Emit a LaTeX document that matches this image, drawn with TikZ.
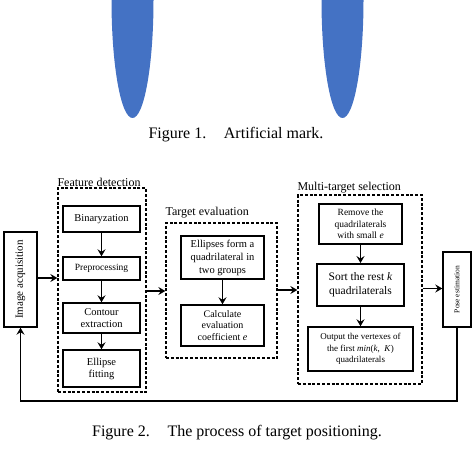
\documentclass[tikz,border=0pt]{standalone}
\usepackage{fontspec}
\setmainfont{Liberation Serif}
\usepackage{tikz}
\usetikzlibrary{arrows.meta}
\definecolor{markblue}{RGB}{68,114,196}

\begin{document}
\begin{tikzpicture}[x=1pt,y=-1pt,
		blk/.style={draw, line width=1.4pt, align=center, inner sep=1pt, font=\fontsize{10.5}{12}\selectfont},
		grp/.style={draw, line width=1.3pt, dash pattern=on 3pt off 1.8pt},
		lbl/.style={anchor=south west, inner sep=0pt, font=\fontsize{12}{14}\selectfont},
		arr/.style={line width=1.8pt, -{Stealth[length=7pt,width=8pt,inset=2.5pt]}},
		captext/.style={font=\fontsize{16}{18}\selectfont}]
	\useasboundingbox (0,0) rectangle (474,465);
	% Figure 1: the two marks
	\begin{scope}
		\clip (0,0) rectangle (474,465);
		\fill[markblue] (132.5,0) ellipse [x radius=21, y radius=118];
		\fill[markblue] (342.5,0) ellipse [x radius=21, y radius=118];
	\end{scope}
	\node[captext] (capone) at (236,135) {Figure 1.\hspace{1.1em}Artificial mark.};
	
	% Figure 2: groups
	\node[grp, minimum width=88, minimum height=204] (feat) at (102,290) {};
	\node[grp, minimum width=111, minimum height=135] (eval) at (221.5,290.5) {};
	\node[grp, minimum width=124, minimum height=189] (sel) at (360,289.5) {};
	\node[lbl, yshift=1] (featlbl) at (feat.north west) {Feature detection};
	\node[lbl, yshift=4] (evallbl) at (eval.north west) {Target evaluation};
	\node[lbl, yshift=1] (sellbl) at (sel.north west) {Multi-target selection};
	
	% outer steps
	\node[blk, minimum width=33, minimum height=95] (acq) at (20.5,279.5) {};
	\node[rotate=90, font=\fontsize{11}{13}\selectfont] (acqtxt) at (acq.center) {Image acquisition};
	\node[blk, minimum width=28, minimum height=75] (pose) at (457,289.5) {};
	\node[rotate=90, font=\fontsize{7.5}{9}\selectfont] (posetxt) at (pose.center) {Pose estimation};
	
	% feature detection
	\node[blk, minimum width=77, minimum height=26] (bin) at (101.5,219) {Binaryzation};
	\node[blk, minimum width=77, minimum height=23, font=\fontsize{9.5}{11}\selectfont] (pre) at (101.5,268.5) {Preprocessing};
	\node[blk, minimum width=77, minimum height=30] (con) at (101.5,318) {Contour\\extraction};
	\node[blk, minimum width=77, minimum height=37] (ell) at (101.5,368.5) {Ellipse\\fitting};
	
	% target evaluation
	\node[blk, minimum width=83, minimum height=43, font=\fontsize{10.5}{13}\selectfont] (quad) at (222.5,257.5) {Ellipses form a\\quadrilateral in\\two groups};
	\node[blk, minimum width=83, minimum height=41, font=\fontsize{10}{11.5}\selectfont] (coef) at (222.5,325.5) {Calculate\\evaluation\\coefficient \textit{e}};
	
	% multi-target selection
	\node[blk, minimum width=83, minimum height=40, font=\fontsize{9.5}{11.3}\selectfont] (rem) at (360.5,224) {Remove the\\quadrilaterals\\with small \textit{e}};
	\node[blk, line width=1.9pt, minimum width=87, minimum height=42, font=\fontsize{11.5}{14}\selectfont] (sort) at (360.5,285) {Sort the rest \textit{k}\\quadrilaterals};
	\node[blk, minimum width=105, minimum height=44, font=\fontsize{9}{11.7}\selectfont] (out) at (360.5,349) {Output the vertexes of\\the first \textit{min}(\textit{k},\ \ \textit{K})\\quadrilaterals};
	
	\coordinate (back) at (20.5,401);
	
	\draw[arr] (bin) -- (pre);
	\draw[arr] (pre) -- (con);
	\draw[arr] (con) -- (ell);
	\draw[arr] (quad) -- (coef);
	\draw[arr] (rem) -- (sort);
	\draw[arr] (sort) -- (out);
	\draw[arr] (acq.east |- 0,278) -- (feat.west |- 0,278);
	\draw[arr] (feat.east |- 0,291) -- (eval.west |- 0,291);
	\draw[arr] (eval.east |- 0,290) -- (sel.west |- 0,290);
	\draw[arr] (sel.east |- 0,288.5) -- (pose.west |- 0,288.5);
	\draw[arr] (pose.south) |- (back) -- (acq.south);
	
	\node[captext] (captwo) at (237,433) {Figure 2.\hspace{1.1em}The process of target positioning.};
\end{tikzpicture}
\end{document}
